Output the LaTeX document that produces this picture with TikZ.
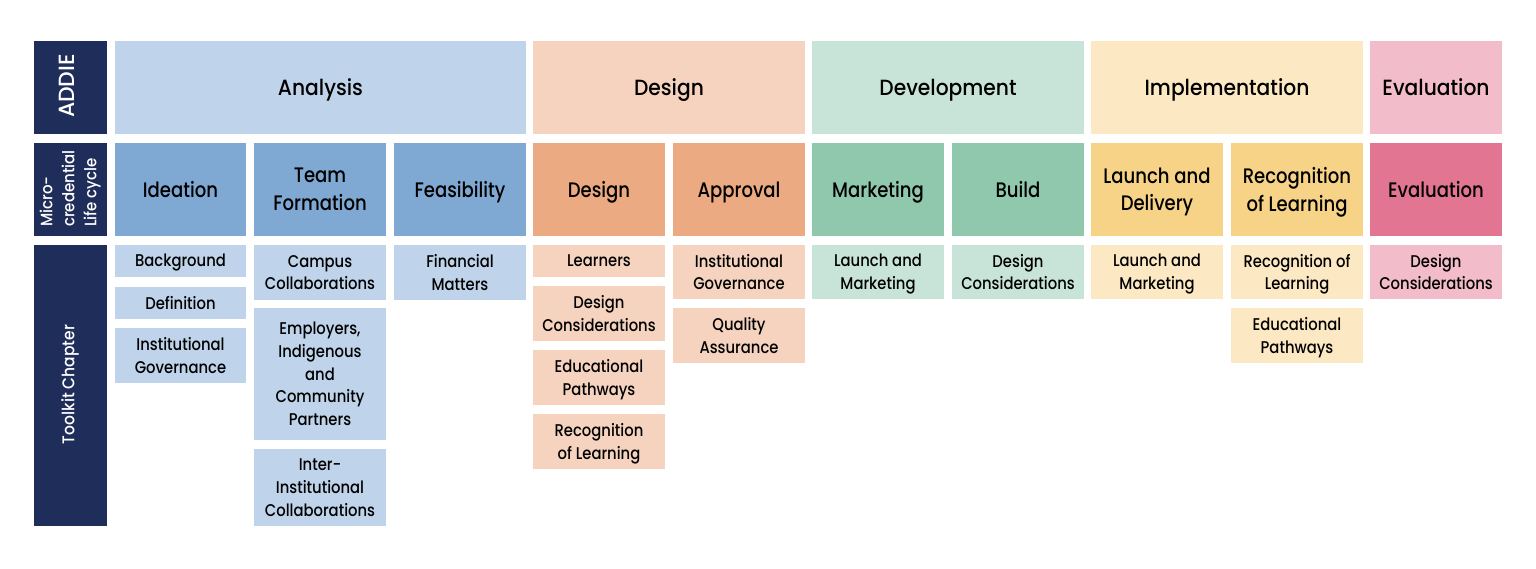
\documentclass[tikz,border=0pt]{standalone}
\usepackage{fontspec}
\setmainfont{Poppins Medium}
\newfontfamily\phf{Poppins Medium}[FakeStretch=0.92]
\newfontfamily\lcf{Poppins Medium}[FakeStretch=0.86]
\newfontfamily\tkf{Poppins Medium}[FakeStretch=0.87]
\newfontfamily\sdf{Poppins Medium}[FakeStretch=0.91]
\newfontfamily\adf{Poppins Medium}
\definecolor{navy}{HTML}{1F2D5A}
\definecolor{anaL}{HTML}{BFD4EA}
\definecolor{anaD}{HTML}{7FA8D2}
\definecolor{desL}{HTML}{F5D3BF}
\definecolor{desD}{HTML}{EBAA82}
\definecolor{devL}{HTML}{C8E4D8}
\definecolor{devD}{HTML}{8FC8AD}
\definecolor{impL}{HTML}{FCE8C3}
\definecolor{impD}{HTML}{F7D388}
\definecolor{evaL}{HTML}{F2BCCA}
\definecolor{evaD}{HTML}{E27692}
\newcommand\cstrut{\rule[-0.3em]{0pt}{1.0em}}
\newcommand\cnl{\\\cstrut}
\tikzset{
  boxshape/.style={inner sep=0pt, outer sep=0pt},
  cellbox/.style={inner sep=0pt, outer sep=0pt, align=center, text=black, execute at begin node=\cstrut},
  phasetxt/.style={font=\phf\fontsize{22}{28}\selectfont},
  lifetxt/.style={font=\lcf\fontsize{21}{27.5}\selectfont},
  tooltxt/.style={font=\tkf\fontsize{17}{22.7}\selectfont},
  sidetxt/.style={text=white, rotate=90, inner sep=0pt, execute at begin node=\cstrut},
}
\newcommand\cell[6]{%
  \pgfmathsetmacro\cw{#4-#2}\pgfmathsetmacro\ch{#5-#3}%
  \pgfmathsetmacro\cx{(#2+#4)/2}\pgfmathsetmacro\cy{(#3+#5)/2}%
  \node[boxshape, fill=#6, minimum width=\cw pt, minimum height=\ch pt] (#1) at (\cx,\cy) {};}
\newcommand\celltxt[4]{%
  \node[cellbox, #2, yshift=#3] (#1txt) at (#1.center) {#4};}
\begin{document}
\begin{tikzpicture}[x=1pt,y=-1pt]
\useasboundingbox[fill=white] (0,0) rectangle (1536,568);
% side labels
\cell{addie}{34}{41}{107}{134}{navy}
\node[sidetxt, font=\adf\fontsize{22}{26}\selectfont, xshift=1.5pt] (addietxt) at (addie.center) {ADDIE};
\cell{mclc}{34}{143}{107}{236}{navy}
\node[sidetxt, align=left, font=\sdf\fontsize{16.5}{22}\selectfont, xshift=1pt] (mclctxt) at (mclc.center) {Micro-\cnl credential\cnl Life cycle};
\cell{tkc}{34}{245}{107}{526}{navy}
\node[sidetxt, font=\sdf\fontsize{17}{20}\selectfont, xshift=1pt] (tkctxt) at (tkc.center) {Toolkit Chapter};
% ADDIE row
\cell{analysis}{115}{41}{526}{134}{anaL}
\cell{design}{533}{41}{805}{134}{desL}
\cell{development}{812}{41}{1084}{134}{devL}
\cell{implementation}{1091}{41}{1363}{134}{impL}
\cell{evaluation}{1370}{41}{1502}{134}{evaL}
\celltxt{analysis}{phasetxt}{-3pt}{Analysis}
\celltxt{design}{phasetxt}{-3pt}{Design}
\celltxt{development}{phasetxt}{-3pt}{Development}
\celltxt{implementation}{phasetxt}{-3pt}{Implementation}
\celltxt{evaluation}{phasetxt}{-3pt}{Evaluation}
% Lifecycle row
\cell{ideation}{115}{143}{246}{236}{anaD}
\cell{team}{254}{143}{386}{236}{anaD}
\cell{feas}{394}{143}{526}{236}{anaD}
\cell{ldesign}{533}{143}{665}{236}{desD}
\cell{approval}{673}{143}{805}{236}{desD}
\cell{marketing}{812}{143}{944}{236}{devD}
\cell{build}{952}{143}{1084}{236}{devD}
\cell{launch}{1091}{143}{1223}{236}{impD}
\cell{recog}{1231}{143}{1363}{236}{impD}
\cell{leval}{1370}{143}{1502}{236}{evaD}
\celltxt{ideation}{lifetxt}{-3pt}{Ideation}
\celltxt{team}{lifetxt}{-3pt}{Team\cnl Formation}
\celltxt{feas}{lifetxt}{-3pt}{Feasibility}
\celltxt{ldesign}{lifetxt}{-3pt}{Design}
\celltxt{approval}{lifetxt}{-3pt}{Approval}
\celltxt{marketing}{lifetxt}{-3pt}{Marketing}
\celltxt{build}{lifetxt}{-3pt}{Build}
\celltxt{launch}{lifetxt}{-3pt}{Launch and\cnl Delivery}
\celltxt{recog}{lifetxt}{-3pt}{Recognition\cnl of Learning}
\celltxt{leval}{lifetxt}{-3pt}{Evaluation}
% Toolkit chapters
\cell{t1a}{115}{245}{246}{277}{anaL}
\cell{t1b}{115}{287}{246}{319}{anaL}
\cell{t1c}{115}{328}{246}{383}{anaL}
\cell{t2a}{254}{245}{386}{300}{anaL}
\cell{t2b}{254}{308}{386}{440}{anaL}
\cell{t2c}{254}{449}{386}{526}{anaL}
\cell{t3a}{394}{245}{526}{300}{anaL}
\cell{t4a}{533}{245}{665}{277}{desL}
\cell{t4b}{533}{286}{665}{341}{desL}
\cell{t4c}{533}{350}{665}{405}{desL}
\cell{t4d}{533}{414}{665}{469}{desL}
\cell{t5a}{673}{245}{805}{299}{desL}
\cell{t5b}{673}{308}{805}{363}{desL}
\cell{t6a}{812}{245}{944}{299}{devL}
\cell{t7a}{952}{245}{1084}{299}{devL}
\cell{t8a}{1091}{245}{1223}{299}{impL}
\cell{t9a}{1231}{245}{1363}{299}{impL}
\cell{t9b}{1231}{308}{1363}{363}{impL}
\cell{t10a}{1370}{245}{1502}{299}{evaL}
\celltxt{t1a}{tooltxt}{-2pt}{Background}
\celltxt{t1b}{tooltxt}{-2pt}{Definition}
\celltxt{t1c}{tooltxt}{-2.5pt}{Institutional\cnl Governance}
\celltxt{t2a}{tooltxt}{-2.5pt}{Campus\cnl Collaborations}
\celltxt{t2b}{tooltxt}{-2.5pt}{Employers,\cnl Indigenous\cnl and\cnl Community\cnl Partners}
\celltxt{t2c}{tooltxt}{-2.5pt}{Inter-\cnl Institutional\cnl Collaborations}
\celltxt{t3a}{tooltxt}{-2.5pt}{Financial\cnl Matters}
\celltxt{t4a}{tooltxt}{-2pt}{Learners}
\celltxt{t4b}{tooltxt}{-2.5pt}{Design\cnl Considerations}
\celltxt{t4c}{tooltxt}{-2.5pt}{Educational\cnl Pathways}
\celltxt{t4d}{tooltxt}{-2.5pt}{Recognition\cnl of Learning}
\celltxt{t5a}{tooltxt}{-2.5pt}{Institutional\cnl Governance}
\celltxt{t5b}{tooltxt}{-2.5pt}{Quality\cnl Assurance}
\celltxt{t6a}{tooltxt}{-2.5pt}{Launch and\cnl Marketing}
\celltxt{t7a}{tooltxt}{-2.5pt}{Design\cnl Considerations}
\celltxt{t8a}{tooltxt}{-2.5pt}{Launch and\cnl Marketing}
\celltxt{t9a}{tooltxt}{-2.5pt}{Recognition of\cnl Learning}
\celltxt{t9b}{tooltxt}{-2.5pt}{Educational\cnl Pathways}
\celltxt{t10a}{tooltxt}{-2.5pt}{Design\cnl Considerations}
\end{tikzpicture}
\end{document}
